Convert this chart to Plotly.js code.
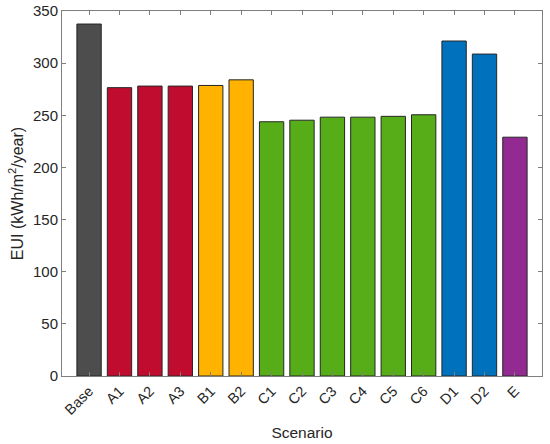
<!DOCTYPE html>
<html>
<head>
<meta charset="utf-8">
<script src="https://cdn.plot.ly/plotly-3.0.1.min.js"></script>
<style>html,body{margin:0;padding:0;background:#fff;}#chart{width:550px;height:444px;}</style>
</head>
<body>
<div id="chart"></div>
<script>
var scenarios = ['Base','A1','A2','A3','B1','B2','C1','C2','C3','C4','C5','C6','D1','D2','E'];
var eui = [337.5, 276.5, 278, 278, 278.6, 284, 243.8, 245.3, 248.2, 248.2, 249, 250.5, 321.2, 308.7, 229];
var groupColors = {Base:'#4d4d4d', A:'#c00d2f', B:'#ffb300', C:'#57ad18', D:'#0072bd', E:'#932a91'};
var yTicks = [0,50,100,150,200,250,300,350];

var colors = scenarios.map(function(s){ return s === 'Base' ? groupColors.Base : groupColors[s.charAt(0)]; });
var xIdx = scenarios.map(function(s,i){ return i; });

var trace = {
  type:'bar', x:xIdx, y:eui, width:0.8,
  marker:{color:colors, line:{color:'#262626', width:1}},
  hoverinfo:'x+y'
};
var axisFont = {family:'Liberation Sans, Arial, sans-serif', size:15, color:'#262626'};
var layout = {
  width:550, height:444,
  margin:{l:62, r:8, t:11, b:68},
  paper_bgcolor:'#fff', plot_bgcolor:'#fff',
  showlegend:false,
  font:axisFont,
  xaxis:{
    range:[-0.89, 14.89], tickmode:'array', tickvals:xIdx, ticktext:scenarios,
    tickangle:-45, ticks:'inside', ticklen:4, tickcolor:'#7f7f7f',
    showline:true, linecolor:'#7f7f7f', linewidth:1, mirror:'ticks',
    showgrid:false, zeroline:false, tickfont:{size:14.5, color:'#262626'},
    title:{text:'Scenario', font:{size:15.5, color:'#262626'}, standoff:10}
  },
  yaxis:{
    range:[0,350], tickmode:'array', tickvals:yTicks,
    ticks:'inside', ticklen:4, tickcolor:'#7f7f7f',
    showline:true, linecolor:'#7f7f7f', linewidth:1, mirror:'ticks',
    showgrid:false, zeroline:false, tickfont:{size:15, color:'#262626'},
    title:{text:'EUI (kWh/m<sup>2</sup>/year)', font:{size:16, color:'#262626'}, standoff:5}
  }
};
Plotly.newPlot('chart',[trace],layout,{displayModeBar:false, staticPlot:true});
</script>
</body>
</html>
